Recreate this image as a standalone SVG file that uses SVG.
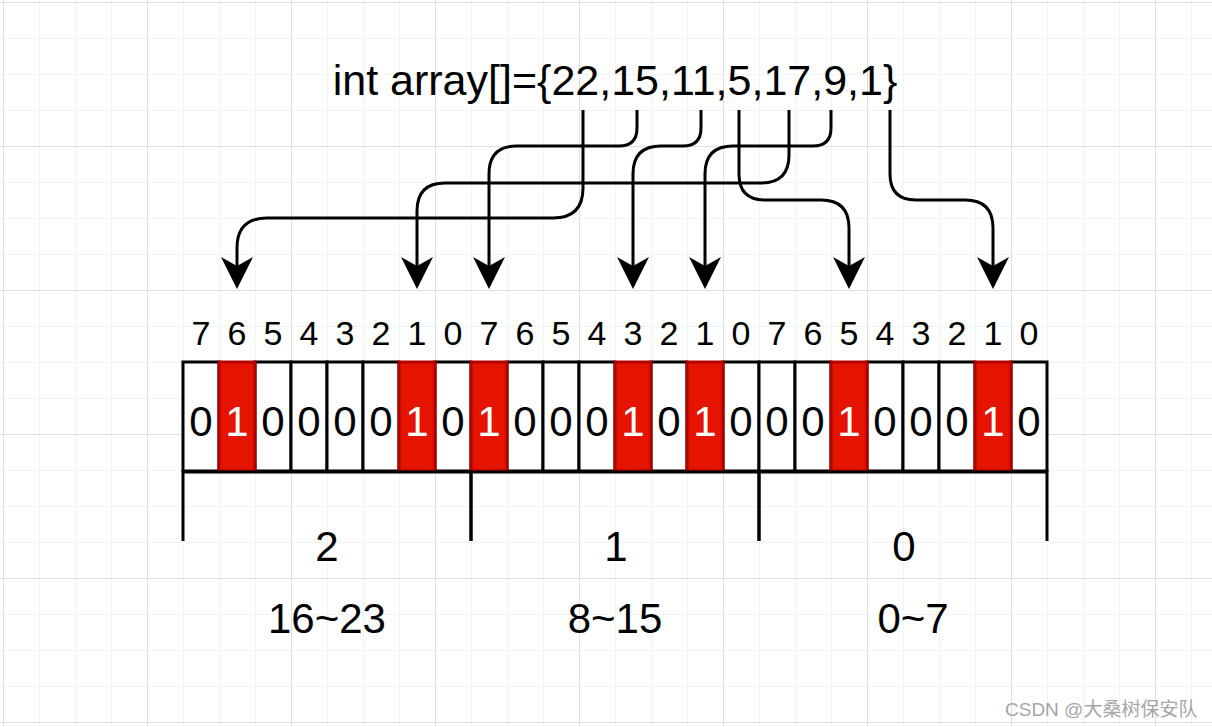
<svg xmlns="http://www.w3.org/2000/svg" width="1212" height="727" viewBox="0 0 1212 727">
<style>
text{font-family:"Liberation Sans",Arial,sans-serif;fill:#000}
.title{font-size:43px;text-anchor:middle}
.bit{font-size:34px;text-anchor:middle}
.val{font-size:42px;text-anchor:middle}
.on{fill:#fff}
.grp{font-size:42px;text-anchor:middle}
.cell{fill:#fff;stroke:#000;stroke-width:3}
.red{fill:#e51400;stroke:#b20000;stroke-width:3}
.edge{fill:none;stroke:#000;stroke-width:3;marker-end:url(#arr)}
.brk{fill:none;stroke:#000;stroke-width:3}
.wm{font-family:"Liberation Sans","Noto Sans CJK SC",sans-serif;font-size:19px;fill:#8c8c8c;fill-opacity:0.8}
</style>
<defs>
<pattern id="grid" patternUnits="userSpaceOnUse" x="3" y="2" width="144" height="144">
<path d="M36.5,0V144M72.5,0V144M108.5,0V144M0,36.5H144M0,72.5H144M0,108.5H144" stroke="#f3f3f3" stroke-width="1" fill="none"/>
<path d="M0.5,0V144M0,0.5H144" stroke="#e0e0e0" stroke-width="1" fill="none"/>
</pattern>
<marker id="arr" markerUnits="userSpaceOnUse" viewBox="-10 -17 34 34" markerWidth="34" markerHeight="34" refX="0" refY="0" orient="auto">
<path d="M-9,-16L23,0L-9,16L0,0Z" fill="#000"/>
</marker>
</defs>
<rect width="1212" height="727" fill="#fff"/>
<rect width="1212" height="727" fill="url(#grid)"/>

<g id="title"><text class="title" x="615" y="95">int array[]={22,15,11,5,17,9,1}</text></g>

<g id="connectors">
<path class="edge" d="M583,110V188Q583,218 553,218H267Q237,218 237,248V266"/>
<path class="edge" d="M637,110V128Q637,146 619,146H517Q489,146 489,174V266"/>
<path class="edge" d="M701,110V128Q701,146 683,146H661Q633,146 633,174V266"/>
<path class="edge" d="M739,110V174Q739,200 765,200H821Q849,200 849,228V266"/>
<path class="edge" d="M789,110V155Q789,183 761,183H445Q417,183 417,211V266"/>
<path class="edge" d="M831,110V128Q831,146 813,146H733Q705,146 705,174V266"/>
<path class="edge" d="M890,110V174Q890,200 916,200H965Q993,200 993,228V266"/>
</g>

<g id="bit-labels">
<text class="bit" x="201" y="345">7</text><text class="bit" x="237" y="345">6</text><text class="bit" x="273" y="345">5</text><text class="bit" x="309" y="345">4</text><text class="bit" x="345" y="345">3</text><text class="bit" x="381" y="345">2</text><text class="bit" x="417" y="345">1</text><text class="bit" x="453" y="345">0</text>
<text class="bit" x="489" y="345">7</text><text class="bit" x="525" y="345">6</text><text class="bit" x="561" y="345">5</text><text class="bit" x="597" y="345">4</text><text class="bit" x="633" y="345">3</text><text class="bit" x="669" y="345">2</text><text class="bit" x="705" y="345">1</text><text class="bit" x="741" y="345">0</text>
<text class="bit" x="777" y="345">7</text><text class="bit" x="813" y="345">6</text><text class="bit" x="849" y="345">5</text><text class="bit" x="885" y="345">4</text><text class="bit" x="921" y="345">3</text><text class="bit" x="957" y="345">2</text><text class="bit" x="993" y="345">1</text><text class="bit" x="1029" y="345">0</text>
</g>

<g id="byte2">
<rect class="cell" x="183" y="362" width="36" height="109"/><rect class="cell" x="255" y="362" width="36" height="109"/><rect class="cell" x="291" y="362" width="36" height="109"/><rect class="cell" x="327" y="362" width="36" height="109"/><rect class="cell" x="363" y="362" width="36" height="109"/><rect class="cell" x="435" y="362" width="36" height="109"/>
<rect class="red" x="219" y="362" width="36" height="109"/><rect class="red" x="399" y="362" width="36" height="109"/>
<text class="val" x="201" y="436">0</text><text class="val on" x="237" y="436">1</text><text class="val" x="273" y="436">0</text><text class="val" x="309" y="436">0</text><text class="val" x="345" y="436">0</text><text class="val" x="381" y="436">0</text><text class="val on" x="417" y="436">1</text><text class="val" x="453" y="436">0</text>
</g>
<g id="byte1">
<rect class="cell" x="507" y="362" width="36" height="109"/><rect class="cell" x="543" y="362" width="36" height="109"/><rect class="cell" x="579" y="362" width="36" height="109"/><rect class="cell" x="651" y="362" width="36" height="109"/><rect class="cell" x="723" y="362" width="36" height="109"/>
<rect class="red" x="471" y="362" width="36" height="109"/><rect class="red" x="615" y="362" width="36" height="109"/><rect class="red" x="687" y="362" width="36" height="109"/>
<text class="val on" x="489" y="436">1</text><text class="val" x="525" y="436">0</text><text class="val" x="561" y="436">0</text><text class="val" x="597" y="436">0</text><text class="val on" x="633" y="436">1</text><text class="val" x="669" y="436">0</text><text class="val on" x="705" y="436">1</text><text class="val" x="741" y="436">0</text>
</g>
<g id="byte0">
<rect class="cell" x="759" y="362" width="36" height="109"/><rect class="cell" x="795" y="362" width="36" height="109"/><rect class="cell" x="867" y="362" width="36" height="109"/><rect class="cell" x="903" y="362" width="36" height="109"/><rect class="cell" x="939" y="362" width="36" height="109"/><rect class="cell" x="1011" y="362" width="36" height="109"/>
<rect class="red" x="831" y="362" width="36" height="109"/><rect class="red" x="975" y="362" width="36" height="109"/>
<text class="val" x="777" y="436">0</text><text class="val" x="813" y="436">0</text><text class="val on" x="849" y="436">1</text><text class="val" x="885" y="436">0</text><text class="val" x="921" y="436">0</text><text class="val" x="957" y="436">0</text><text class="val on" x="993" y="436">1</text><text class="val" x="1029" y="436">0</text>
</g>

<g id="group2"><path class="brk" d="M183,541V472H471V541"/><text class="grp" x="327" y="561">2</text><text class="grp" x="327" y="633">16~23</text></g>
<g id="group1"><path class="brk" d="M471,541V472H759V541"/><text class="grp" x="616" y="561">1</text><text class="grp" x="615" y="633">8~15</text></g>
<g id="group0"><path class="brk" d="M759,541V472H1047V541"/><text class="grp" x="904" y="561">0</text><text class="grp" x="913" y="633">0~7</text></g>

<text class="wm" x="1005" y="716">CSDN @大桑树保安队</text>
</svg>
